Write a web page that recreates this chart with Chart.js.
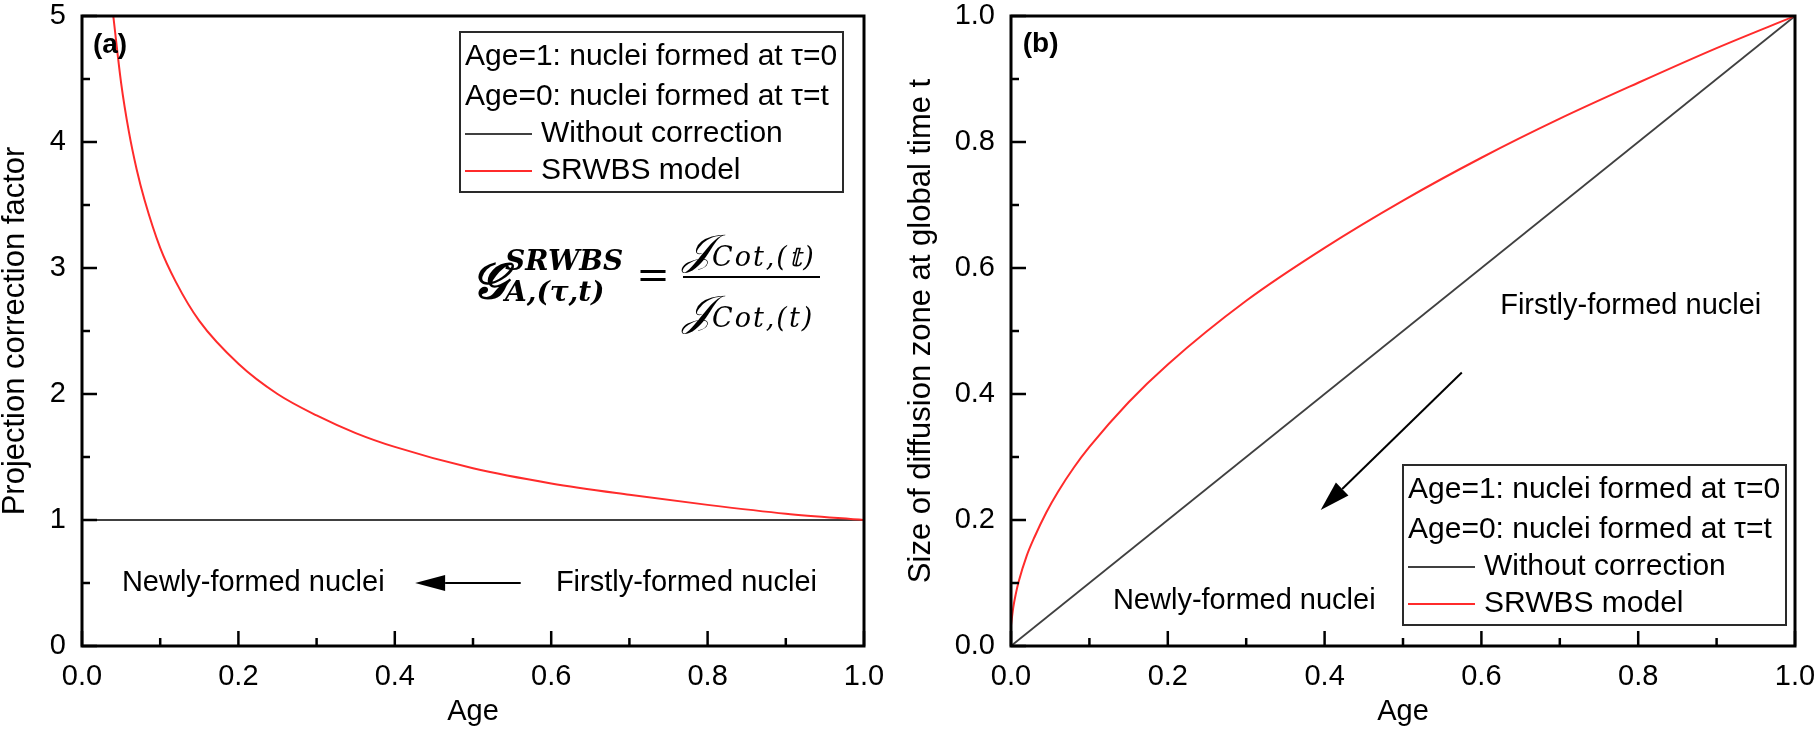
<!DOCTYPE html>
<html>
<head>
<meta charset="utf-8">
<title>Projection correction factor / size of diffusion zone</title>
<script src="https://cdn.jsdelivr.net/npm/chart.js@4.4.1/dist/chart.umd.min.js"></script>
<style>
  html, body { margin: 0; padding: 0; background: #fff; }
  #wrap { position: relative; width: 1817px; height: 736px; overflow: hidden; }
  canvas { position: absolute; top: 0; }
  #chartA { left: 0; }
  #chartB { left: 905px; }
</style>
</head>
<body>
<div id="wrap">
  <canvas id="chartA" width="905" height="736"></canvas>
  <canvas id="chartB" width="912" height="736"></canvas>
</div>
<script>
// tick values shown on the axes
const ageTicks = [0, 0.2, 0.4, 0.6, 0.8, 1.0]
const factorTicks = [0, 1, 2, 3, 4, 5]
const sizeTicks = [0, 0.2, 0.4, 0.6, 0.8, 1.0]

// (a) projection correction factor
const ageA = [0.04, 0.05, 0.06, 0.07, 0.08, 0.10, 0.12, 0.15, 0.20, 0.25, 0.30, 0.35, 0.40, 0.50, 0.60, 0.70, 0.80, 0.90, 1.00]
const factorSRWBS = [5.00, 4.47, 4.08, 3.78, 3.54, 3.16, 2.89, 2.58, 2.24, 2.00, 1.83, 1.69, 1.58, 1.41, 1.29, 1.20, 1.12, 1.05, 1.00]
const ageFlat = [0, 1]
const factorFlat = [1, 1]

// (b) size of diffusion zone at global time t
const ageB = [0, 0.003, 0.006, 0.01, 0.02, 0.03, 0.045, 0.06, 0.08, 0.10, 0.15, 0.20, 0.30, 0.40, 0.50, 0.60, 0.70, 0.80, 0.90, 1.00]
const sizeSRWBS = [0.033, 0.062, 0.082, 0.103, 0.143, 0.173, 0.212, 0.245, 0.283, 0.316, 0.387, 0.447, 0.548, 0.632, 0.707, 0.775, 0.837, 0.894, 0.949, 1.00]
const ageDiag = [0, 1]
const sizeDiag = [0, 1]

const legendRows = ['Age=1: nuclei formed at \u03c4=0', 'Age=0: nuclei formed at \u03c4=t', 'Without correction', 'SRWBS model']

const RED = '#ff2b2b'
const GREY = '#404040'
const FONT = '"Liberation Sans", Arial, sans-serif'
const SERIF = '"DejaVu Serif", "Liberation Serif", serif'

function pts(xs, ys) {
  return xs.map((x, i) => ({ x: x, y: ys[i] }))
}

function text(ctx, s, x, y, font, align, baseline) {
  ctx.font = font
  ctx.textAlign = align || 'left'
  ctx.textBaseline = baseline || 'middle'
  ctx.fillStyle = '#000'
  ctx.fillText(s, x, y)
}

function seg(ctx, x0, y0, x1, y1) {
  ctx.beginPath()
  ctx.moveTo(x0, y0)
  ctx.lineTo(x1, y1)
  ctx.stroke()
}

function arrow(ctx, x0, y0, x1, y1, head, half) {
  const a = Math.atan2(y1 - y0, x1 - x0)
  const bx = x1 - head * Math.cos(a), by = y1 - head * Math.sin(a)
  ctx.strokeStyle = '#000'
  ctx.fillStyle = '#000'
  ctx.lineWidth = 2
  seg(ctx, x0, y0, bx, by)
  ctx.beginPath()
  ctx.moveTo(x1, y1)
  ctx.lineTo(bx + half * Math.sin(a), by - half * Math.cos(a))
  ctx.lineTo(bx - half * Math.sin(a), by + half * Math.cos(a))
  ctx.closePath()
  ctx.fill()
}

// Origin-style frame: ticks pointing inwards plus a box round the plot
function drawFrame(chart) {
  const { ctx, chartArea: a, scales: { x, y } } = chart
  ctx.save()
  ctx.strokeStyle = '#000'
  ctx.lineWidth = 2.5
  const xt = x.ticks.map(t => t.value)
  const yt = y.ticks.map(t => t.value)
  xt.forEach((v, i) => {
    const px = x.getPixelForValue(v)
    seg(ctx, px, a.bottom, px, a.bottom - 15)
    if (i > 0) {
      const pm = x.getPixelForValue((v + xt[i - 1]) / 2)
      seg(ctx, pm, a.bottom, pm, a.bottom - 8)
    }
  })
  yt.forEach((v, i) => {
    const py = y.getPixelForValue(v)
    seg(ctx, a.left, py, a.left + 15, py)
    if (i > 0) {
      const pm = y.getPixelForValue((v + yt[i - 1]) / 2)
      seg(ctx, a.left, pm, a.left + 8, pm)
    }
  })
  ctx.lineWidth = 3
  ctx.strokeRect(a.left, a.top, a.right - a.left, a.bottom - a.top)
  ctx.restore()
}

function drawLegend(chart, left, top) {
  const ctx = chart.ctx
  ctx.save()
  ctx.strokeStyle = '#2a2a2a'
  ctx.lineWidth = 2
  ctx.strokeRect(left, top, 383, 160)
  const rows = [25, 65, 102, 139]
  const f = '30px ' + FONT
  text(ctx, legendRows[0], left + 5, top + rows[0], f)
  text(ctx, legendRows[1], left + 5, top + rows[1], f)
  ctx.lineWidth = 2
  ctx.strokeStyle = GREY
  seg(ctx, left + 5, top + rows[2], left + 72, top + rows[2])
  text(ctx, legendRows[2], left + 81, top + rows[2], f)
  ctx.strokeStyle = RED
  seg(ctx, left + 5, top + rows[3], left + 72, top + rows[3])
  text(ctx, legendRows[3], left + 81, top + rows[3], f)
  ctx.restore()
}

function annotateA(chart) {
  const { ctx, chartArea: a, scales: { x, y } } = chart
  ctx.save()
  text(ctx, '(a)', x.getPixelForValue(0.014), y.getPixelForValue(4.77), 'bold 28px ' + FONT)
  drawLegend(chart, a.left + 378, a.top + 16)

  // formula G = J(t)/J(t)
  text(ctx, '\ud835\udca2', 471, 298, 'italic bold 50px ' + SERIF, 'left', 'alphabetic')
  text(ctx, 'SRWBS', 505, 270, 'bold italic 28px ' + SERIF, 'left', 'alphabetic')
  text(ctx, 'A,(\u03c4,t)', 505, 301, 'bold italic 28px ' + SERIF, 'left', 'alphabetic')
  text(ctx, '=', 653, 278, '40px ' + SERIF, 'center', 'middle')
  ctx.strokeStyle = '#000'
  ctx.lineWidth = 2
  seg(ctx, 683, 277, 820, 277)
  ctx.letterSpacing = '2px'
  text(ctx, '\ud835\udca5', 683, 264, 'italic 42px ' + SERIF, 'left', 'alphabetic')
  text(ctx, 'Cot,(\ud835\udd65)', 712, 266, 'italic 27px ' + SERIF, 'left', 'alphabetic')
  text(ctx, '\ud835\udca5', 683, 325, 'italic 42px ' + SERIF, 'left', 'alphabetic')
  text(ctx, 'Cot,(t)', 712, 327, 'italic 27px ' + SERIF, 'left', 'alphabetic')
  ctx.letterSpacing = '0px'

  const yy = y.getPixelForValue(0.5)
  text(ctx, 'Newly-formed nuclei', x.getPixelForValue(0.051), yy, '29px ' + FONT)
  arrow(ctx, x.getPixelForValue(0.561), yy, x.getPixelForValue(0.426), yy, 30, 8)
  text(ctx, 'Firstly-formed nuclei', x.getPixelForValue(0.606), yy, '29px ' + FONT)
  ctx.restore()
}

function annotateB(chart) {
  const { ctx, chartArea: a, scales: { x, y } } = chart
  ctx.save()
  text(ctx, '(b)', x.getPixelForValue(0.015), y.getPixelForValue(0.955), 'bold 28px ' + FONT)
  text(ctx, 'Firstly-formed nuclei', x.getPixelForValue(0.624), y.getPixelForValue(0.539), '29px ' + FONT)
  arrow(ctx, x.getPixelForValue(0.575), y.getPixelForValue(0.434), x.getPixelForValue(0.395), y.getPixelForValue(0.216), 30, 9)
  text(ctx, 'Newly-formed nuclei', x.getPixelForValue(0.130), y.getPixelForValue(0.072), '29px ' + FONT)
  drawLegend(chart, a.left + 392, a.top + 449)
  ctx.restore()
}

function makeChart(id, cfg) {
  return new Chart(document.getElementById(id), {
    type: 'scatter',
    data: { datasets: cfg.datasets },
    options: {
      responsive: false,
      animation: false,
      devicePixelRatio: 1,
      layout: { padding: { top: 16, right: cfg.padRight, left: 0, bottom: 0 } },
      elements: { point: { radius: 0, hoverRadius: 0 } },
      plugins: { legend: { display: false }, tooltip: { enabled: false } },
      scales: {
        x: {
          type: 'linear', min: 0, max: 1,
          afterBuildTicks: s => { s.ticks = ageTicks.map(v => ({ value: v })) },
          afterFit: s => { s.height = 90; s.paddingLeft = 0; s.paddingRight = 0 },
          grid: { display: false, drawTicks: false },
          border: { display: false },
          ticks: { padding: 14, color: '#000', font: { family: FONT, size: 29 }, maxRotation: 0, callback: v => v.toFixed(1) },
          title: { display: true, text: 'Age', color: '#000', padding: { top: 0, bottom: 10 }, font: { family: FONT, size: 29, lineHeight: 1 } }
        },
        y: {
          type: 'linear', min: cfg.yMin, max: cfg.yMax,
          afterBuildTicks: s => { s.ticks = cfg.yTicks.map(v => ({ value: v })) },
          afterFit: s => { s.width = cfg.yWidth; s.paddingTop = 0; s.paddingBottom = 0 },
          grid: { display: false, drawTicks: false },
          border: { display: false },
          ticks: { padding: 16, color: '#000', font: { family: FONT, size: 29 }, callback: cfg.yFormat },
          title: { display: true, text: cfg.yTitle, color: '#000', padding: { top: cfg.titlePad, bottom: 0 }, font: { family: FONT, size: 31, lineHeight: 1 } }
        }
      }
    },
    plugins: [{
      id: 'decor',
      afterDatasetsDraw: chart => { drawFrame(chart); cfg.annotate(chart) }
    }]
  })
}

makeChart('chartA', {
  datasets: [
    { label: 'SRWBS model', data: pts(ageA, factorSRWBS), showLine: true, borderColor: RED, borderWidth: 2, cubicInterpolationMode: 'monotone', order: 0 },
    { label: 'Without correction', data: pts(ageFlat, factorFlat), showLine: true, borderColor: GREY, borderWidth: 2, order: 1 }
  ],
  yMin: 0, yMax: 5, yTicks: factorTicks, yWidth: 82, padRight: 41, titlePad: 0,
  yFormat: v => String(v),
  yTitle: 'Projection correction factor',
  annotate: annotateA
})

makeChart('chartB', {
  datasets: [
    { label: 'SRWBS model', data: pts(ageB, sizeSRWBS), showLine: true, borderColor: RED, borderWidth: 2, cubicInterpolationMode: 'monotone', order: 0 },
    { label: 'Without correction', data: pts(ageDiag, sizeDiag), showLine: true, borderColor: GREY, borderWidth: 1.8, order: 1 }
  ],
  yMin: 0, yMax: 1, yTicks: sizeTicks, yWidth: 106, padRight: 22, titlePad: 1,
  yFormat: v => v.toFixed(1),
  yTitle: 'Size of diffusion zone at global time t',
  annotate: annotateB
})
</script>
</body>
</html>
